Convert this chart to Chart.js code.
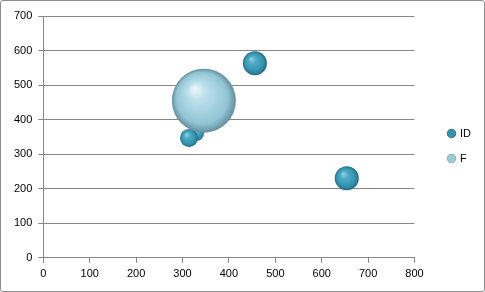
<!DOCTYPE html>
<html>
<head>
<meta charset="utf-8">
<script src="https://cdn.jsdelivr.net/npm/chart.js@4"></script>
<style>
  html,body{margin:0;padding:0;background:#fff;}
  #wrap{position:absolute;left:0;top:0;width:483px;height:290px;border:1px solid #8c8c8c;border-radius:3px;}
  canvas{display:block;}
</style>
</head>
<body>
<div id="wrap"><canvas id="chart" width="483" height="290"></canvas></div>
<script>
/**** Excel-style 3D bubble chart ****/

// series data (bubble radius in px)
const idX    = [456, 654, 331, 314];
const idY    = [563, 230, 359, 347];
const idSize = [12, 12, 7, 9];

const fX    = [346];
const fY    = [455];
const fSize = [32];

const seriesNames = ["ID", "F"];
const xTicks = [0, 100, 200, 300, 400, 500, 600, 700, 800];
const yTicks = [0, 100, 200, 300, 400, 500, 600, 700];

const toPoints = (xs, ys, rs) => xs.map((x, i) => ({x, y: ys[i], r: rs[i]}));

// shaded sphere fill
const palettes = {
  ID: ["#96d3e4", "#52aec8", "#3090ac", "#206a80"],
  F:  ["#eef8fb", "#b9dfea", "#93c5d4", "#638f9d"]
};
function sphere(name){
  return c => {
    const chart = c.chart, raw = c.raw, p = palettes[name];
    if(!raw || !chart.scales || !chart.scales.x || !chart.scales.y) return p[2];
    const cx = chart.scales.x.getPixelForValue(raw.x);
    const cy = chart.scales.y.getPixelForValue(raw.y);
    const r = raw.r;
    if(!isFinite(cx) || !isFinite(cy) || !isFinite(r)) return p[2];
    const g = chart.ctx.createRadialGradient(cx - r*0.3, cy - r*0.4, 0, cx, cy, r);
    g.addColorStop(0, p[0]);
    g.addColorStop(0.3, p[1]);
    g.addColorStop(0.8, p[2]);
    g.addColorStop(1, p[3]);
    return g;
  };
}

// Excel leaves a wide gap left of the legend
const legendGap = {
  id: "legendGap",
  beforeInit(chart){
    const fit = chart.legend.fit;
    chart.legend.fit = function(){ fit.call(this); this.width += 23; };
  },
  afterLayout(chart){
    const lg = chart.legend;
    lg.left += 20;
    lg.top -= 5; lg.bottom -= 5;
  }
};

const gridCol = "#868686";
const font = {family: "'Liberation Sans', Arial, sans-serif", size: 11};

new Chart(document.getElementById("chart"), {
  type: "bubble",
  data: {
    datasets: [
      { label: seriesNames[0], data: toPoints(idX, idY, idSize), backgroundColor: sphere("ID"), borderWidth: 0, order: 1 },
      { label: seriesNames[1], data: toPoints(fX, fY, fSize), backgroundColor: sphere("F"), borderWidth: 0, order: 0 }
    ]
  },
  plugins: [legendGap],
  options: {
    responsive: false,
    animation: false,
    layout: {autoPadding: false, padding: {left: 7, top: 15, right: 0, bottom: 5}},
    plugins: {
      tooltip: {enabled: false},
      legend: {
        position: "right",
        labels: {
          font: font, color: "#000",
          usePointStyle: true, pointStyle: "circle", boxWidth: 6, boxHeight: 6, padding: 14,
          generateLabels: () => [
            {text: "ID", fillStyle: "#3592ae", strokeStyle: "#2a7890", lineWidth: 1, pointStyle: "circle", datasetIndex: 0},
            {text: "F",  fillStyle: "#9ccbd9", strokeStyle: "#7fb0c0", lineWidth: 1, pointStyle: "circle", datasetIndex: 1}
          ]
        }
      }
    },
    scales: {
      x: {
        type: "linear", min: xTicks[0], max: xTicks[xTicks.length-1],
        afterBuildTicks: ax => { ax.ticks = xTicks.map(v => ({value: v})); },
        grid: {drawOnChartArea: false, drawTicks: true, tickLength: 5, color: gridCol},
        border: {color: gridCol},
        ticks: {font: font, color: "#000", padding: 5, maxRotation: 0}
      },
      y: {
        type: "linear", min: yTicks[0], max: yTicks[yTicks.length-1],
        afterBuildTicks: ax => { ax.ticks = yTicks.map(v => ({value: v})); },
        grid: {color: gridCol, tickLength: 5},
        border: {color: gridCol},
        ticks: {font: font, color: "#000", padding: 6}
      }
    }
  }
});
</script>
</body>
</html>
